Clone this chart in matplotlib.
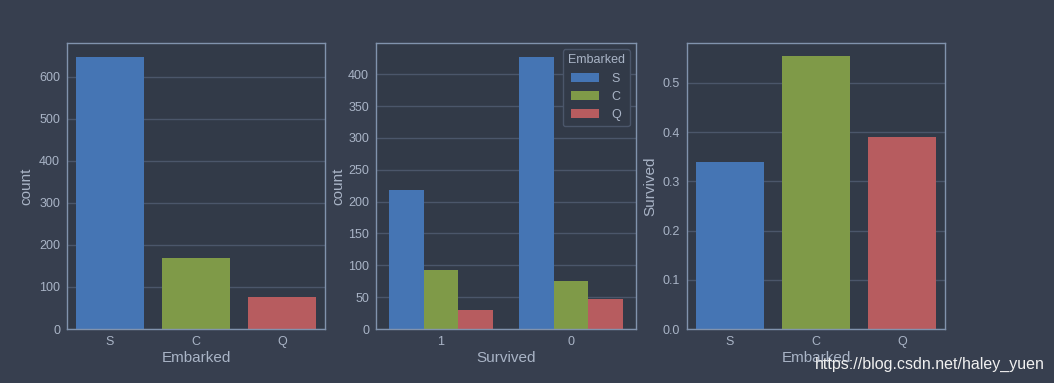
import matplotlib
matplotlib.use("Agg")
import matplotlib.pyplot as plt
import numpy as np

# Data
embarked = ["S", "C", "Q"]
embarked_counts = [646, 168, 77]
survived_cats = ["1", "0"]
survived_by_embarked = {"S": [219, 427], "C": [93, 75], "Q": [30, 47]}
survival_rate = [0.339, 0.554, 0.390]

colors = ["#4575b4", "#7f9a48", "#b75c5f"]
fig_bg = "#373f4f"
ax_bg = "#323a48"
spine_c = "#8193ad"
grid_c = "#4b566a"
text_c = "#a9b4c6"

plt.rcParams['font.family'] = ['Liberation Sans', 'DejaVu Sans']

fig = plt.figure(figsize=(10.54, 3.83), dpi=100, facecolor=fig_bg)
W, H = 1054, 383
def add_ax(x0, x1, y0=43, y1=329):
    return fig.add_axes([x0 / W, 1 - y1 / H, (x1 - x0) / W, (y1 - y0) / H])

axes = [add_ax(67, 325), add_ax(376, 636), add_ax(687, 945)]

for ax in axes:
    ax.set_facecolor(ax_bg)
    for s in ax.spines.values():
        s.set_color(spine_c)
        s.set_linewidth(1.0)
    ax.yaxis.grid(True, color=grid_c, linewidth=1.0)
    ax.set_axisbelow(True)
    ax.tick_params(colors=text_c, labelsize=9, length=0, pad=5)
    ax.xaxis.label.set_color(text_c)
    ax.yaxis.label.set_color(text_c)

# Plot 1
ax = axes[0]
x = np.arange(len(embarked))
ax.bar(x, embarked_counts, width=0.8, color=colors)
ax.set_xticks(x)
ax.set_xticklabels(embarked)
ax.set_xlim(-0.5, 2.5)
ax.set_ylim(0, 680)
ax.set_yticks(range(0, 700, 100))
ax.set_xlabel("Embarked", fontsize=11, labelpad=2)
ax.set_ylabel("count", fontsize=11, labelpad=4)

# Plot 2
ax = axes[1]
x = np.arange(len(survived_cats))
w = 0.8 / 3
for i, e in enumerate(embarked):
    ax.bar(x - 0.4 + w * (i + 0.5), survived_by_embarked[e], width=w,
           color=colors[i], label=e)
ax.set_xticks(x)
ax.set_xticklabels(survived_cats)
ax.set_xlim(-0.5, 1.5)
ax.set_ylim(0, 449)
ax.set_yticks(range(0, 450, 50))
ax.set_xlabel("Survived", fontsize=11, labelpad=2)
ax.set_ylabel("count", fontsize=11, labelpad=2)
leg = ax.legend(title="Embarked", loc="upper right", fontsize=9, title_fontsize=9,
                frameon=True, facecolor=ax_bg, edgecolor=grid_c, framealpha=1.0,
                borderaxespad=0.5, handlelength=2.2, handletextpad=1.0,
                labelspacing=0.5)
for t in leg.get_texts():
    t.set_color(text_c)
leg.get_title().set_color(text_c)

# Plot 3
ax = axes[2]
x = np.arange(len(embarked))
ax.bar(x, survival_rate, width=0.8, color=colors)
ax.set_xticks(x)
ax.set_xticklabels(embarked)
ax.set_xlim(-0.5, 2.5)
ax.set_ylim(0, 0.581)
ax.set_yticks(np.arange(0, 0.6, 0.1))
ax.set_yticklabels([f"{v:.1f}" for v in np.arange(0, 0.6, 0.1)])
ax.set_xlabel("Embarked", fontsize=11, labelpad=2)
ax.set_ylabel("Survived", fontsize=11, labelpad=4)

fig.text(1045 / W, 1 - 364 / H, "https://blog.csdn.net/haley_yuen", color="#f0f0f0",
         fontsize=11.5, ha="right", va="center")

fig.savefig("out.png", dpi=100, facecolor=fig_bg)
